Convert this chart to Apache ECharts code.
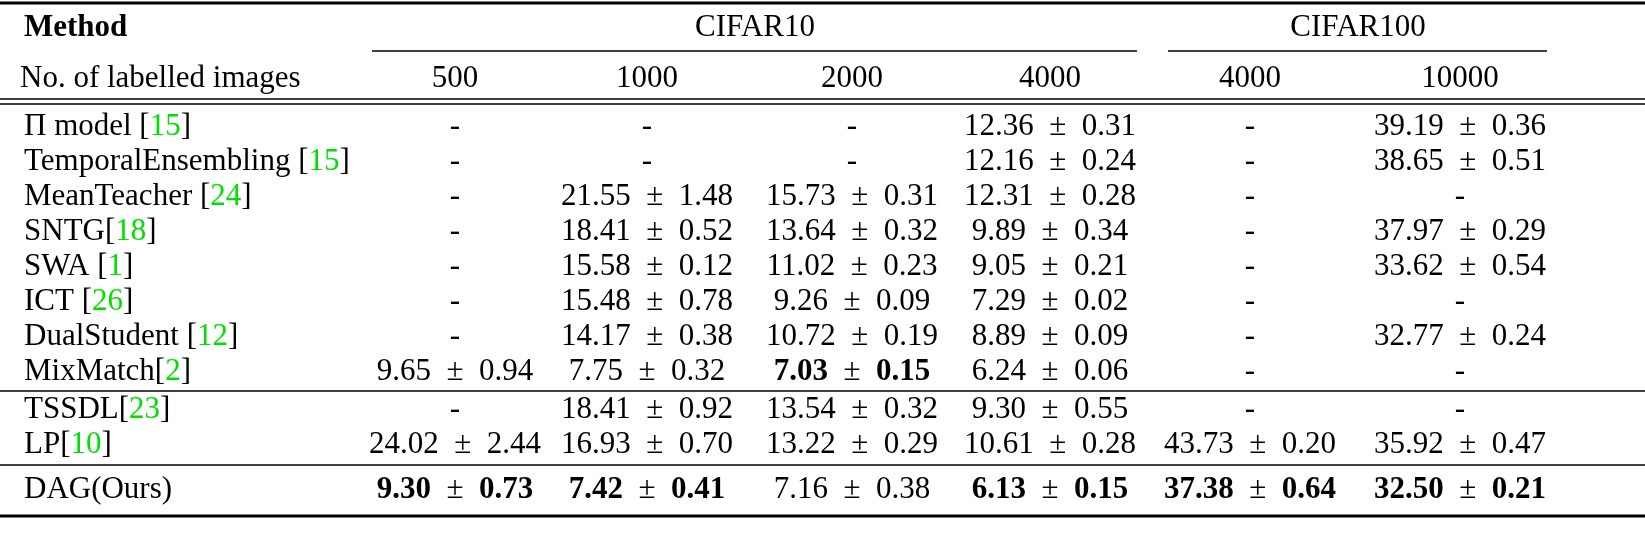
<!DOCTYPE html>
<html>
<head>
<meta charset="utf-8">
<style>
body{margin:0;background:#fff}
#main{width:1645px;height:547px}
</style>
</head>
<body>
<div id="main"></div>
<script src="https://cdn.jsdelivr.net/npm/echarts@6/dist/echarts.min.js"></script>
<script>
// table content
var labelCounts = ['500','1000','2000','4000','4000','10000'];
var methods = ['Π model [','TemporalEnsembling [','MeanTeacher [','SNTG[','SWA [','ICT [','DualStudent [','MixMatch[','TSSDL[','LP[','DAG(Ours)'];
var refs = ['15','15','24','18','1','26','12','2','23','10',''];
var values = [
  ['-','-','-','12.36 ± 0.31','-','39.19 ± 0.36'],
  ['-','-','-','12.16 ± 0.24','-','38.65 ± 0.51'],
  ['-','21.55 ± 1.48','15.73 ± 0.31','12.31 ± 0.28','-','-'],
  ['-','18.41 ± 0.52','13.64 ± 0.32','9.89 ± 0.34','-','37.97 ± 0.29'],
  ['-','15.58 ± 0.12','11.02 ± 0.23','9.05 ± 0.21','-','33.62 ± 0.54'],
  ['-','15.48 ± 0.78','9.26 ± 0.09','7.29 ± 0.02','-','-'],
  ['-','14.17 ± 0.38','10.72 ± 0.19','8.89 ± 0.09','-','32.77 ± 0.24'],
  ['9.65 ± 0.94','7.75 ± 0.32','7.03 ± 0.15','6.24 ± 0.06','-','-'],
  ['-','18.41 ± 0.92','13.54 ± 0.32','9.30 ± 0.55','-','-'],
  ['24.02 ± 2.44','16.93 ± 0.70','13.22 ± 0.29','10.61 ± 0.28','43.73 ± 0.20','35.92 ± 0.47'],
  ['9.30 ± 0.73','7.42 ± 0.41','7.16 ± 0.38','6.13 ± 0.15','37.38 ± 0.64','32.50 ± 0.21']
];
var boldCells = [[7,2],[10,0],[10,1],[10,3],[10,4],[10,5]];

var colX = [455, 647, 852, 1050, 1250, 1460];
var rowY = [127,162,197,232,267,302,337,372,410,445,490];
var font = 'Liberation Serif';
var fs = 31;
var rich = {
  n:{fontFamily:font,fontSize:fs,fill:'#000'},
  b:{fontFamily:font,fontSize:fs,fontWeight:'bold',fill:'#000'},
  g:{fontFamily:font,fontSize:fs,fill:'#00e000'}
};
function isBold(r,c){return boldCells.some(function(p){return p[0]===r&&p[1]===c;});}
function cellText(v,bold){
  var p=v.split(' ± ');
  if(v==='-')return '{n|-}';
  var s=bold?'b':'n';
  return '{'+s+'|'+p[0]+'}{n|  ±  }{'+s+'|'+p[1]+'}';
}
var g=[];
function txt(x,y,t,align){g.push({type:'text',x:x,y:y,style:{text:t,rich:rich,font:fs+'px '+font,align:align||'center',verticalAlign:'middle'}});}
function line(x1,x2,y,w){g.push({type:'line',shape:{x1:x1,y1:y,x2:x2,y2:y},style:{stroke:'#000',lineWidth:w}});}

line(0,1645,3,3);
txt(24,28,'{b|Method}','left');
txt(755,28,'{n|CIFAR10}');
txt(1358,28,'{n|CIFAR100}');
line(372,1137,51,1.3);
line(1168,1547,51,1.3);
txt(20,79,'{n|No. of labelled images}','left');
labelCounts.forEach(function(l,i){txt(colX[i],79,'{n|'+l+'}');});
line(0,1645,99,1.3);
line(0,1645,104,1.3);
methods.forEach(function(m,r){
  var t = refs[r] ? '{n|'+m+'}{g|'+refs[r]+'}{n|]}' : '{n|'+m+'}';
  txt(24,rowY[r],t,'left');
  values[r].forEach(function(v,c){txt(colX[c],rowY[r],cellText(v,isBold(r,c)));});
});
line(0,1645,391,1.3);
line(0,1645,465,1.3);
line(0,1645,516,3);

var mychart=echarts.init(document.getElementById('main'));
mychart.setOption({animation:false,graphic:g});
</script>
</body>
</html>
